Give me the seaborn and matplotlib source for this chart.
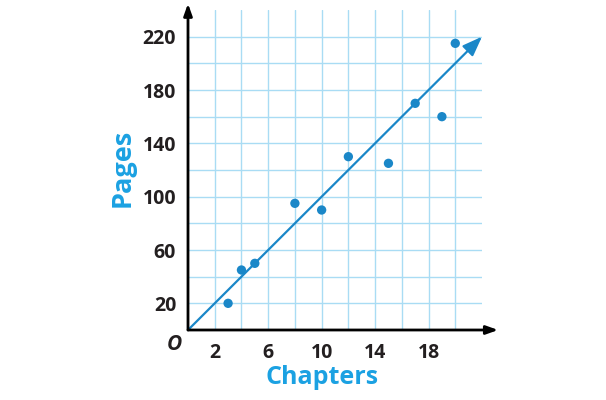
import numpy as np
import pandas as pd
import matplotlib
matplotlib.use("Agg")
import matplotlib.pyplot as plt
import seaborn as sns

# scatter data
chapters = [3, 4, 5, 8, 10, 12, 15, 17, 19, 20]
pages = [20, 45, 50, 95, 90, 130, 125, 170, 160, 215]
# line of fit (drawn with an arrow head)
fit_x = [0, 22]
fit_y = [0, 220]
x_ticks = [2, 4, 6, 8, 10, 12, 14, 16, 18, 20]
x_labels = ["2", "", "6", "", "10", "", "14", "", "18", ""]
y_ticks = [20, 40, 60, 80, 100, 120, 140, 160, 180, 200, 220]
y_labels = ["20", "", "60", "", "100", "", "140", "", "180", "", "220"]

blue = "#1a87c8"
label_blue = "#1ba1e2"
grid_blue = "#a9dcf4"

sns.set_style("white")
plt.rcParams["font.family"] = ["Open Sans", "DejaVu Sans"]

df = pd.DataFrame({"Chapters": chapters, "Pages": pages})

fig = plt.figure(figsize=(6.06, 4), dpi=100)
ax = fig.add_axes([188 / 606, 70 / 400, 294 / 606, 320 / 400])

# grid
for gx in np.arange(2, 22, 2):
    ax.axvline(gx, color=grid_blue, lw=1, zorder=0)
for gy in np.arange(20, 240, 20):
    ax.axhline(gy, color=grid_blue, lw=1, zorder=0)

sns.scatterplot(data=df, x="Chapters", y="Pages", ax=ax, color=blue, s=45,
                edgecolor="none", zorder=4, clip_on=False)

ax.annotate("", xy=(fit_x[1], fit_y[1]), xytext=(fit_x[0], fit_y[0]),
            arrowprops=dict(arrowstyle="-|>,head_length=1.2,head_width=0.45",
                            color=blue, lw=1.6, shrinkA=0, shrinkB=0),
            zorder=3, annotation_clip=False)

ax.set_xlim(0, 22)
ax.set_ylim(0, 240)
for s in ax.spines.values():
    s.set_visible(False)

# axes with arrows
ax.annotate("", xy=(1.055, 0), xytext=(0, 0), xycoords="axes fraction",
            arrowprops=dict(arrowstyle="-|>,head_length=0.7,head_width=0.25",
                            color="black", lw=2, shrinkA=0, shrinkB=0),
            annotation_clip=False)
ax.annotate("", xy=(0, 1.02), xytext=(0, 0), xycoords="axes fraction",
            arrowprops=dict(arrowstyle="-|>,head_length=0.7,head_width=0.25",
                            color="black", lw=2, shrinkA=0, shrinkB=0),
            annotation_clip=False)

ax.set_xticks(x_ticks)
ax.set_xticklabels(x_labels)
ax.set_yticks(y_ticks)
ax.set_yticklabels(y_labels)
ax.tick_params(axis="both", direction="inout", length=9, width=1.2,
               color="black", labelsize=14, pad=3)
ax.tick_params(axis="x", pad=5)
ax.tick_params(axis="y", pad=4)
for t in ax.get_xticklabels() + ax.get_yticklabels():
    t.set_fontweight("bold")
    t.set_color("#231f20")

ax.set_xlabel("Chapters", fontsize=18, fontweight="bold", color=label_blue)
ax.set_ylabel("Pages", fontsize=19.5, fontweight="bold", color=label_blue)
ax.xaxis.set_label_coords((322 - 188) / 294, -(377 - 330) / 320)
ax.yaxis.set_label_coords(-(188 - 123) / 294, (330 - 168) / 320)
ax.xaxis.label.set_va("center")
ax.yaxis.label.set_va("center")

ax.text(-0.045, -0.045, "O", transform=ax.transAxes, fontsize=15,
        fontstyle="italic", fontweight="bold", ha="center", va="center",
        color="#231f20")

fig.savefig("out.png", dpi=100)
